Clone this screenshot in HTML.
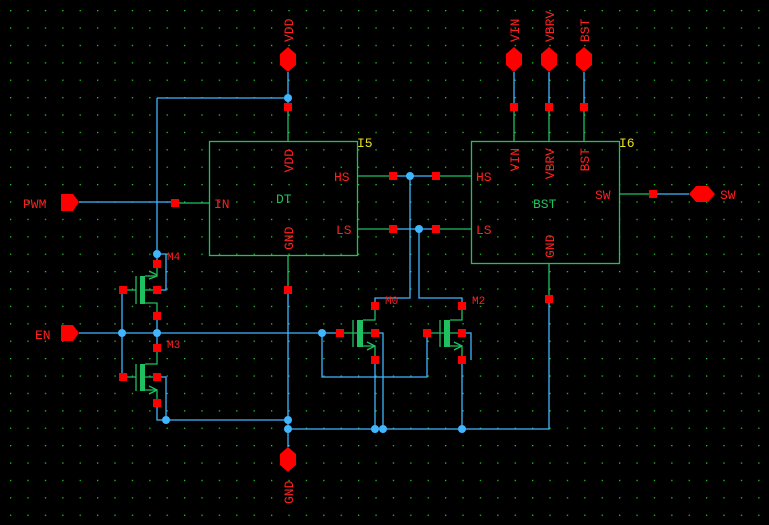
<!DOCTYPE html>
<html><head><style>body{margin:0;background:#000}svg{display:block}</style></head><body>
<svg width="769" height="525" xmlns="http://www.w3.org/2000/svg" font-family="Liberation Mono, monospace" font-size="13">
<defs><pattern id="g" x="10" y="10" width="17.4" height="17.4" patternUnits="userSpaceOnUse"><rect x="0" y="0" width="1.3" height="1.3" fill="#22cc22"/></pattern></defs>
<rect width="769" height="525" fill="#000"/>
<rect width="769" height="525" fill="url(#g)"/>
<g fill="none" stroke="#1fc060" stroke-width="1.3">
<rect x="209.5" y="141.5" width="148" height="114"/>
<rect x="471.5" y="141.5" width="148" height="122"/>
<path d="M288 107V141M288 255V290M514 107V141M549 107V141M584 107V141M549 263V299M619 194H653M357 176H393M357 229H393M436 176H471M436 229H471M175 203H209"/>
<!-- M4 -->
<path d="M136 276V304M145 290H157M157 264V276H145M145 303H157V316M123 290H136"/>
<path d="M157 275L149 271M157 276L149 279"/>
<!-- M3 -->
<path d="M136 364V391M145 377H157M157 348V364H145M145 390H157V403M123 377H136"/>
<path d="M157 390L149 386M157 390L149 394"/>
<!-- M0 -->
<path d="M353 320V347M340 333H357M375 306V320H363M363 346H375V360M375 333H363"/>
<path d="M375 346L367 342M375 346L367 350"/>
<!-- M2 -->
<path d="M440 320V347M427 333H444M462 306V320H450M450 346H462V360M462 333H450"/>
<path d="M462 346L454 342M462 346L454 350"/>
</g>
<g fill="#1fc060"><rect x="140" y="276" width="5" height="28"/><rect x="140" y="364" width="5" height="27"/><rect x="357" y="320" width="6" height="27"/><rect x="444" y="320" width="6" height="27"/></g>
<g fill="none" stroke="#3fb6ff" stroke-width="1.3">
<path d="M288 72V107M157 98H288M157 98V264M79 202H175M514 72V107M549 72V107M584 72V107M653 194H689"/>
<path d="M393 176H436M393 229H436M410 176V298H375V306M419 229V298H462V306"/>
<path d="M157 254H166V290H157M79 333H322M122 290V377M157 316V348M157 377H166V420M157 403V420H288M288 290V447M288 429H549V299"/>
<path d="M375 333H383V429M375 360V429M462 333H471V360M462 360V429M322 333H340M322 333V377H427V333"/>
</g>
<g fill="#ff0000">
<polygon points="280,54 288,47 296,54 296,65 288,72 280,65"/>
<polygon points="280,454 288,447 296,454 296,465 288,472 280,465"/>
<polygon points="506,54 514,47 522,54 522,65 514,72 506,65"/>
<polygon points="541,54 549,47 557,54 557,65 549,72 541,65"/>
<polygon points="576,54 584,47 592,54 592,65 584,72 576,65"/>
<polygon points="689,194 696,186 708,186 715,194 708,202 696,202"/>
<polygon points="61,194 73,194 79,202 73,211 61,211"/>
<polygon points="61,325 73,325 79,333 73,341 61,341"/>
<g transform="translate(-4,-4)">
<rect x="288" y="107" width="8" height="8"/><rect x="288" y="290" width="8" height="8"/>
<rect x="514" y="107" width="8" height="8"/><rect x="549" y="107" width="8" height="8"/><rect x="584" y="107" width="8" height="8"/>
<rect x="549" y="299" width="8" height="8"/><rect x="653" y="194" width="8" height="8"/>
<rect x="393" y="176" width="8" height="8"/><rect x="436" y="176" width="8" height="8"/><rect x="393" y="229" width="8" height="8"/><rect x="436" y="229" width="8" height="8"/>
<rect x="175" y="203" width="8" height="8"/>
<rect x="157" y="264" width="8" height="8"/><rect x="157" y="290" width="8" height="8"/><rect x="157" y="316" width="8" height="8"/><rect x="123" y="290" width="8" height="8"/>
<rect x="157" y="348" width="8" height="8"/><rect x="157" y="377" width="8" height="8"/><rect x="157" y="403" width="8" height="8"/><rect x="123" y="377" width="8" height="8"/>
<rect x="375" y="306" width="8" height="8"/><rect x="375" y="333" width="8" height="8"/><rect x="375" y="360" width="8" height="8"/><rect x="340" y="333" width="8" height="8"/>
<rect x="462" y="306" width="8" height="8"/><rect x="462" y="333" width="8" height="8"/><rect x="462" y="360" width="8" height="8"/><rect x="427" y="333" width="8" height="8"/>
</g></g>
<g fill="#3fb6ff">
<circle cx="288" cy="98" r="4"/><circle cx="157" cy="254" r="4"/><circle cx="157" cy="333" r="4"/><circle cx="122" cy="333" r="4"/>
<circle cx="166" cy="420" r="4"/><circle cx="288" cy="420" r="4"/><circle cx="288" cy="429" r="4"/><circle cx="375" cy="429" r="4"/><circle cx="383" cy="429" r="4"/><circle cx="462" cy="429" r="4"/>
<circle cx="410" cy="176" r="4"/><circle cx="419" cy="229" r="4"/><circle cx="322" cy="333" r="4"/>
</g>
<g fill="#ff2020">
<text x="23" y="208">PWM</text><text x="35" y="339">EN</text><text x="720" y="199">SW</text>
<text x="214" y="208">IN</text><text x="334" y="181">HS</text><text x="336" y="234">LS</text>
<text x="476" y="181">HS</text><text x="476" y="234">LS</text><text x="595" y="199">SW</text>
<text transform="translate(293,42) rotate(-90)">VDD</text>
<text transform="translate(519,42) rotate(-90)">VIN</text>
<text transform="translate(554,42) rotate(-90)">VBRV</text>
<text transform="translate(589,42) rotate(-90)">BST</text>
<text transform="translate(293,504) rotate(-90)">GND</text>
<text transform="translate(293,149) rotate(-90)" text-anchor="end">VDD</text>
<text transform="translate(293,250) rotate(-90)">GND</text>
<text transform="translate(519,148) rotate(-90)" text-anchor="end">VIN</text>
<text transform="translate(554,148) rotate(-90)" text-anchor="end">VBRV</text>
<text transform="translate(589,148) rotate(-90)" text-anchor="end">BST</text>
<text transform="translate(554,258) rotate(-90)">GND</text>
<g font-size="11"><text x="167" y="260">M4</text><text x="167" y="348">M3</text><text x="385" y="304">M0</text><text x="472" y="304">M2</text></g>
</g>
<g fill="#1fc060"><text x="276" y="203">DT</text><text x="533" y="208">BST</text></g>
<g fill="#e8e020"><text x="357" y="147">I5</text><text x="619" y="147">I6</text></g>
</svg>
</body></html>
